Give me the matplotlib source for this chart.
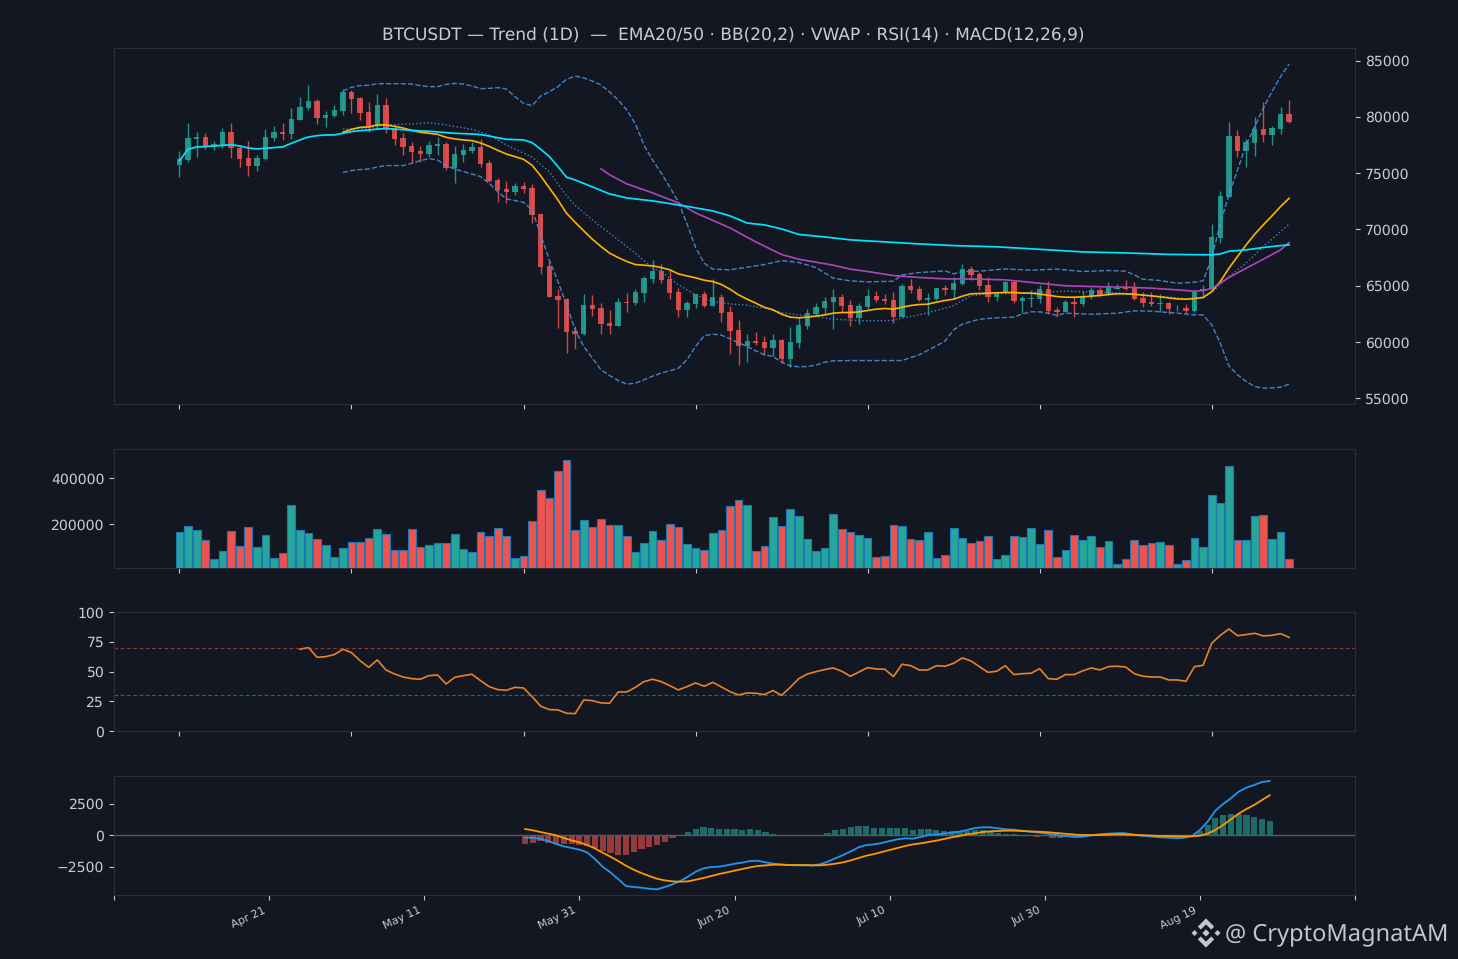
import numpy as np
import matplotlib
matplotlib.use("Agg")
import matplotlib.pyplot as plt
from matplotlib.patches import Polygon
from matplotlib.transforms import ScaledTranslation

#======================
# 1. VALUES
#======================
opens = [75730, 76170, 78040, 78210, 77410, 77410, 78660, 77240, 76350, 75640,
         76260, 78120, 78660, 78480, 79720, 80790, 81410, 79900, 80080, 80520,
         82210, 81670, 80430, 79280, 81050, 78890, 78130, 77410, 76970, 76710,
         77410, 77590, 75460, 76620, 76970, 77330, 75910, 74400, 73600, 73330,
         73870, 73690, 71380, 66770, 64110, 63840, 61010, 60740, 63310, 63050,
         61720, 61450, 63580, 63490, 64380, 65620, 66330, 65620, 64470, 62870,
         63400, 64290, 63220, 64020, 62690, 61090, 59670, 60120, 60030, 59500,
         60210, 58520, 59940, 61450, 62510, 63050, 63580, 64020, 63310, 62160,
         63130, 64110, 63840, 63760, 62250, 65000, 64730, 63760, 63840, 64820,
         64640, 65180, 66510, 66060, 65090, 64020, 64380, 65350, 63670, 63840,
         63840, 64730, 62870, 62690, 63580, 63400, 64110, 64640, 64200, 64730,
         64820, 64820, 63930, 63580, 63430, 63490, 62990, 63050, 62780, 64550,
         64730, 69250, 72890, 78300, 76970, 77680, 78920, 78390, 78920, 80250]
highs = [76940, 79430, 78630, 78540, 77860, 78980, 79430, 77500, 77860, 76620,
         78890, 79190, 79430, 80790, 81730, 82830, 81560, 80490, 81020, 82440,
         82380, 81760, 81290, 82030, 81640, 79280, 78540, 77740, 77410, 77860,
         78210, 77800, 77410, 77590, 77800, 78070, 76170, 74580, 74310, 74130,
         74220, 74010, 71380, 67300, 64730, 63900, 61450, 64290, 64170, 63460,
         62870, 63900, 64350, 64700, 65830, 67300, 66920, 66420, 64790, 63670,
         64290, 64550, 65590, 64290, 63220, 61980, 60740, 60920, 60560, 60740,
         60270, 61360, 62130, 62960, 63490, 63990, 64730, 64290, 63760, 63490,
         64730, 64550, 64290, 64430, 65180, 65620, 65000, 64380, 64820, 65060,
         65800, 66950, 66770, 66270, 65800, 64350, 65440, 65440, 64110, 64640,
         65090, 65440, 63130, 63700, 64020, 64520, 64910, 64910, 65350, 65180,
         65530, 65350, 64470, 64470, 64290, 63580, 63310, 63400, 64640, 65080,
         70500, 73420, 79540, 78830, 78040, 79990, 81290, 79190, 80880, 81500]
lows = [74700, 76030, 76470, 77180, 77060, 77240, 76380, 75580, 74780, 75230,
        76170, 77890, 77980, 78040, 79720, 80610, 79400, 79100, 79990, 80170,
        80340, 79720, 78690, 78890, 78600, 77500, 76620, 75940, 76030, 76440,
        76620, 75290, 74130, 76000, 76790, 75580, 74190, 72480, 72390, 73070,
        73250, 70580, 66090, 64020, 61270, 59050, 59410, 60650, 62340, 60680,
        60680, 61450, 62690, 63340, 63580, 65230, 65290, 63840, 62190, 62190,
        63050, 63160, 63220, 61800, 58970, 57990, 58250, 59760, 58850, 58730,
        58140, 57780, 59500, 61180, 62340, 62420, 61210, 62690, 61450, 61630,
        62960, 63580, 63400, 61720, 62190, 64380, 63670, 62420, 63760, 64200,
        63840, 65090, 65500, 64610, 63580, 63670, 64290, 63490, 62600, 63130,
        63490, 62510, 62220, 62690, 62190, 63220, 63790, 64110, 64200, 64700,
        64640, 63760, 63130, 63220, 62690, 62510, 62780, 62600, 62690, 64020,
        64550, 68840, 72890, 76470, 75580, 76560, 77800, 77500, 78480, 79460]
closes = [76260, 78130, 78210, 77410, 77590, 78660, 77240, 76260, 75640, 76350,
          78210, 78660, 78480, 79810, 80880, 81410, 79900, 80170, 80610, 82210,
          81580, 80340, 79130, 81050, 79010, 78040, 77330, 76880, 76710, 77500,
          77590, 75460, 76710, 77060, 77330, 75820, 74310, 73510, 73330, 73870,
          73600, 71290, 66680, 64020, 63750, 60920, 60740, 63310, 62960, 61630,
          61450, 63580, 63490, 64470, 65710, 66330, 65530, 64380, 62870, 63490,
          64290, 63220, 64020, 62600, 61010, 59670, 60120, 59910, 59500, 60210,
          58520, 60030, 61540, 62600, 63130, 63670, 64020, 63220, 62160, 63220,
          64110, 63760, 63670, 62250, 65000, 64640, 63760, 63930, 64820, 64640,
          65260, 66510, 65970, 65000, 64020, 64290, 65350, 63670, 63930, 63930,
          64730, 62780, 62690, 63580, 63400, 64110, 64640, 64110, 64910, 64820,
          64700, 63840, 63490, 63400, 63490, 62960, 63050, 62780, 64460, 64730,
          69340, 72980, 78300, 76970, 77770, 78920, 78390, 79010, 80250, 79540]
volumes = [165950, 192020, 174640, 131150, 48550, 83340, 170290, 105080, 187680, 100730,
           152900, 52900, 74640, 283330, 174640, 161590, 135500, 109430, 57240, 96380,
           122460, 122460, 139860, 178990, 157250, 87680, 87680, 178990, 100730, 109430,
           118120, 118120, 157250, 92030, 78990, 165950, 148560, 183330, 148560, 52900,
           61590, 213770, 348550, 313770, 431160, 478990, 174640, 218120, 187680, 222470,
           196380, 196380, 148560, 78990, 118120, 170290, 131150, 200730, 187680, 113770,
           96380, 87680, 161590, 174640, 278990, 305080, 283330, 83340, 105080, 231160,
           192020, 265940, 235510, 135500, 83340, 96380, 244200, 178990, 165950, 152900,
           139860, 57240, 61590, 196380, 192020, 135500, 131150, 165950, 52900, 65930,
           183330, 139860, 118120, 126810, 148560, 48550, 65930, 148560, 144200, 183330,
           113770, 174640, 57240, 87680, 152900, 131150, 148560, 100730, 126810, 26820,
           48550, 131150, 109430, 118120, 122460, 109430, 26820, 44200, 139860, 100730,
           326810, 292030, 452900, 131150, 131150, 235510, 239850, 135500, 165950, 48550]

# indicator lines, (bar, value)
vwap = [(0, 76110), (1, 77120), (2, 77330), (3, 77360), (4, 77410), (5, 77470), (6, 77530),
        (7, 77410), (8, 77240), (9, 77150), (10, 77210), (11, 77270), (12, 77330), (13, 77650),
        (14, 77950), (15, 78210), (16, 78330), (17, 78390), (18, 78390), (19, 78540), (20, 78690),
        (21, 78770), (22, 78830), (23, 78920), (24, 78950), (25, 78920), (26, 78860), (27, 78800),
        (28, 78750), (29, 78720), (30, 78660), (31, 78600), (32, 78540), (34, 78480), (35, 78420),
        (36, 78300), (37, 78150), (38, 78010), (39, 77980), (40, 77950), (41, 77710), (42, 77120),
        (43, 76470), (44, 75580), (45, 74640), (46, 74400), (48, 73780), (50, 73160), (52, 72800),
        (55, 72540), (58, 72180), (60, 71920), (62, 71650), (64, 71210), (66, 70570), (68, 70410),
        (70, 70050), (72, 69560), (75, 69340), (78, 69080), (82, 68900), (86, 68720), (90, 68570),
        (95, 68460), (100, 68240), (105, 68010), (110, 67920), (115, 67790), (120, 67750),
        (121, 67830), (122, 68070), (124, 68190), (126, 68400), (128, 68570), (129, 68630)]
ema20 = [78630, 78890, 79070, 79100, 79280, 79280, 79160, 79010, 78800, 78630,
         78540, 78450, 78180, 78040, 77950, 77890, 77680, 77380, 77030, 76700,
         76470, 76230, 75700, 74750, 73690, 72620, 71440, 70640, 69880, 69140,
         68490, 67900, 67510, 67160, 66890, 66830, 66770, 66620, 66420, 66060,
         65880, 65710, 65500, 65380, 65120, 64700, 64200, 63810, 63460, 63100,
         62870, 62480, 62220, 62160, 62220, 62310, 62420, 62570, 62630, 62630,
         62690, 62810, 62930, 62990, 62930, 63100, 63250, 63340, 63370, 63550,
         63700, 63810, 64080, 64290, 64320, 64350, 64380, 64410, 64410, 64350,
         64350, 64260, 64170, 64050, 63990, 63990, 64020, 64080, 64140, 64230,
         64290, 64290, 64260, 64170, 64110, 64020, 63930, 63840, 63810, 63870,
         63960, 64490, 65380, 66560, 67600, 68630, 69580, 70410, 71200, 72030, 72770]
ema50 = [(49, 75380), (50, 74860), (52, 74050), (55, 73250), (58, 72360), (60, 71470), (62, 70810),
         (64, 70140), (67, 68900), (70, 67780), (72, 67360), (74, 67100), (76, 66830), (78, 66480),
         (80, 66270), (83, 65910), (86, 65740), (89, 65620), (93, 65590), (96, 65530), (98, 65380),
         (100, 65230), (103, 65000), (106, 64940), (110, 64880), (113, 64790), (116, 64640),
         (118, 64520), (119, 64580), (120, 64760), (121, 65230), (122, 65740), (124, 66560),
         (126, 67360), (128, 68190), (129, 68840)]
bb_mid = [(19, 78920), (21, 78950), (24, 79280), (27, 79370), (29, 79480), (31, 79280), (34, 78890),
          (36, 78390), (38, 77500), (41, 76410), (43, 75140), (45, 72980), (46, 72150), (48, 70850),
          (50, 69670), (51, 69080), (53, 67900), (55, 66560), (56, 66270), (58, 65090), (60, 64200),
          (62, 63610), (64, 63400), (66, 63280), (68, 63020), (70, 62630), (72, 62420), (74, 62280),
          (76, 62040), (78, 61950), (80, 61890), (83, 61920), (84, 62130), (86, 62420), (88, 62810),
          (90, 63250), (92, 64110), (94, 64290), (97, 64350), (100, 64430), (103, 64520), (106, 64470),
          (109, 64380), (112, 64200), (114, 64050), (117, 63870), (119, 63990), (120, 64400),
          (122, 65820), (124, 67010), (126, 68480), (128, 69810), (129, 70470)]
bb_up = [(19, 82290), (20, 82620), (21, 82770), (22, 82800), (23, 82940), (26, 82940), (27, 82910),
         (28, 82770), (29, 82680), (30, 82680), (31, 82880), (32, 82970), (33, 82910), (34, 82740),
         (35, 82500), (36, 82530), (37, 82590), (38, 82470), (39, 81790), (40, 81200), (41, 80990),
         (42, 81850), (43, 82230), (44, 82680), (45, 83330), (46, 83620), (47, 83450), (48, 83180),
         (49, 82830), (50, 82210), (51, 81500), (52, 80610), (53, 79370), (54, 77500), (55, 76170),
         (56, 75020), (57, 73780), (58, 72450), (59, 70500), (60, 68400), (61, 67010), (62, 66480),
         (64, 66420), (66, 66650), (68, 66890), (70, 67240), (72, 67070), (74, 66620), (76, 65680),
         (78, 65440), (80, 65350), (83, 65410), (84, 65970), (86, 66180), (89, 66330), (90, 66060),
         (91, 66270), (93, 66300), (96, 66500), (99, 66390), (102, 66480), (105, 66270), (108, 66360),
         (110, 66300), (111, 65970), (112, 65590), (114, 65470), (116, 65230), (118, 65320),
         (119, 65440), (120, 67450), (121, 70550), (122, 73070), (123, 75290), (124, 77500),
         (125, 79130), (126, 80760), (127, 82230), (128, 83560), (129, 84690)]
bb_low = [(19, 75050), (20, 75230), (21, 75320), (22, 75370), (23, 75550), (24, 75670), (26, 75670),
          (27, 75880), (28, 76110), (29, 76290), (30, 76170), (31, 75670), (32, 75370), (33, 75140),
          (34, 74930), (35, 74700), (36, 74100), (37, 73360), (38, 72710), (39, 72570), (40, 72420),
          (41, 71740), (42, 69520), (43, 67300), (44, 65380), (45, 63310), (46, 61090), (47, 59620),
          (48, 58580), (49, 57550), (50, 57040), (51, 56600), (52, 56270), (53, 56360), (54, 56660),
          (55, 56980), (56, 57250), (57, 57460), (58, 57690), (59, 58430), (60, 59620), (61, 60560),
          (62, 60710), (63, 60620), (64, 60300), (65, 59940), (66, 59620), (67, 59230), (68, 58880),
          (69, 58730), (70, 58220), (71, 57900), (72, 57810), (73, 57840), (74, 57960), (75, 58220),
          (76, 58340), (78, 58370), (84, 58370), (86, 58880), (88, 59670), (89, 60100), (90, 61090),
          (91, 61600), (93, 62040), (95, 62160), (97, 62220), (98, 62510), (99, 62690), (100, 62690),
          (101, 62570), (102, 62370), (103, 62570), (106, 62480), (109, 62570), (111, 62780),
          (113, 62750), (116, 62570), (118, 62420), (119, 62420), (120, 61530), (121, 59910),
          (122, 57900), (123, 57100), (124, 56510), (125, 56060), (126, 55920), (127, 55950),
          (128, 56000), (129, 56270)]

rsi_start = 14
rsi = [68.7, 70.1, 61.9, 62.5, 64.2, 68.7, 65.9, 59.1, 53.5, 59.7,
       51.3, 47.9, 45.4, 44.0, 43.5, 46.5, 47.1, 39.5, 45.1, 46.5,
       47.7, 42.3, 37.3, 34.8, 34.2, 36.7, 36.2, 28.9, 20.8, 18.0,
       17.7, 14.9, 14.6, 26.1, 25.5, 23.6, 23.3, 32.8, 32.8, 36.7,
       41.5, 43.5, 41.5, 38.1, 34.5, 37.3, 40.4, 37.6, 40.9, 37.0,
       33.1, 30.3, 32.0, 31.7, 30.6, 34.0, 30.0, 36.7, 44.0, 47.9,
       49.9, 51.6, 53.0, 50.2, 46.0, 49.6, 53.3, 52.1, 51.9, 45.7,
       56.1, 54.9, 51.3, 51.3, 54.9, 54.4, 56.9, 61.4, 58.9, 54.1,
       49.3, 50.2, 54.9, 47.4, 48.2, 48.5, 52.4, 44.0, 43.5, 47.4,
       47.4, 50.5, 53.0, 51.3, 54.1, 54.4, 53.8, 48.2, 46.0, 45.4,
       45.4, 42.9, 42.9, 41.8, 54.1, 55.2, 73.7, 80.4, 85.7, 80.1,
       81.0, 82.1, 79.9, 80.4, 81.8, 78.7]

macd_start = 53
macd_hist = [-715, -635, -500, -660, -740, -715, -715, -770, -850, -1005,
             -1270, -1430, -1590, -1590, -1350, -1110, -950, -795, -555, -240,
             -25, 240, 475, 635, 555, 475, 475, 475, 395, 475,
             395, 240, 80, 10, -25, -25, 5, -25, 5, 160,
             395, 475, 635, 715, 715, 555, 555, 555, 555, 555,
             395, 475, 475, 395, 320, 320, 320, 320, 395, 395,
             240, 160, 80, 80, -50, -50, -160, -50, -240, -240,
             -190, -190, 0, 25, 50, 80, 50, 50, 25, 0,
             -25, -25, -25, -50, -50, -80, -50, 320, 795, 1350,
             1590, 1670, 1670, 1590, 1430, 1270, 1110]
macd_line = [-212, -212, -318, -477, -715, -900, -1033, -1165, -1377, -1906,
             -2515, -2965, -3495, -4050, -4130, -4183, -4262, -4315, -4130, -3918,
             -3654, -3309, -2912, -2648, -2542, -2515, -2409, -2277, -2198, -2065,
             -2039, -2171, -2277, -2330, -2383, -2409, -2409, -2409, -2330, -2118,
             -1854, -1589, -1298, -980, -795, -742, -636, -477, -345, -265,
             -292, -159, 0, 52, 105, 185, 264, 397, 555, 608,
             608, 529, 449, 423, 344, 264, 211, 132, 52, -53,
             -106, -159, -133, -27, 52, 105, 132, 158, 79, -27,
             -80, -133, -186, -212, -265, -212, -80, 397, 1058, 1932,
             2461, 2911, 3440, 3758, 3970, 4208, 4288]
macd_signal = [476, 370, 238, 105, -27, -239, -424, -583, -795, -1059,
               -1403, -1721, -2065, -2436, -2754, -3018, -3256, -3468, -3601, -3680,
               -3706, -3680, -3548, -3415, -3256, -3098, -2965, -2833, -2701, -2568,
               -2462, -2409, -2356, -2356, -2383, -2383, -2383, -2409, -2409, -2356,
               -2277, -2171, -2012, -1827, -1642, -1509, -1350, -1192, -1033, -874,
               -742, -662, -556, -450, -318, -185, -80, 52, 132, 238,
               291, 318, 344, 344, 318, 291, 264, 238, 185, 132,
               79, 26, 0, 0, 0, 26, 52, 52, 26, 0,
               -27, -53, -80, -80, -106, -106, -106, -53, 105, 397,
               794, 1243, 1693, 2064, 2382, 2779, 3149]

date_ticks = [20, 40, 60, 80, 100, 120, 140]
date_labels = ["Apr 21", "May 11", "May 31", "Jun 20", "Jul 10", "Jul 30", "Aug 19"]

#======================
# 2. STYLE
#======================
BG = "#121722"
GRID = "#2a2e39"
TXT = "#c8ccd6"
UP = "#26a69a"
DOWN = "#ef5350"
BB = "#4a90d9"
W, H = 1458, 959

plt.rcParams["font.family"] = ["DejaVu Sans"]
plt.rcParams["text.hinting"] = "no_hinting"
plt.rcParams["text.hinting_factor"] = 1

def panel(top, bottom):
    ax = fig.add_axes([114 / W, 1 - bottom / H, (1355 - 114) / W, (bottom - top) / H])
    ax.set_facecolor(BG)
    for s in ax.spines.values():
        s.set_color(GRID)
    ax.tick_params(colors=TXT, labelsize=10.2, length=3.5, width=0.8)
    return ax

def xy(pairs):
    return zip(*pairs)

fig = plt.figure(figsize=(W / 100, H / 100), dpi=100, facecolor=BG)
fig.text(733 / W, 1 - 36.5 / H,
         "BTCUSDT \u2014 Trend (1D)  \u2014  EMA20/50 \u00b7 BB(20,2) \u00b7 VWAP \u00b7 RSI(14) \u00b7 MACD(12,26,9)",
         color=TXT, fontsize=12, ha="center", va="center")

bars = np.arange(len(closes))
o, h, l, c = map(np.array, (opens, highs, lows, closes))
colors = [UP if b >= a else DOWN for a, b in zip(o, c)]
upper_xlim = (-7.61, 136.66)

#================
# 3. PRICE PANEL
#================
ax1 = panel(48, 404)
ax1.vlines(bars, l, h, colors=colors, lw=1, alpha=0.85, zorder=2)
ax1.bar(bars, np.abs(c - o), bottom=np.minimum(o, c), width=0.62, color=colors, alpha=0.85, zorder=3)
ax1.plot(*xy(bb_up), color=BB, lw=1, ls="--", alpha=0.9, zorder=4)
ax1.plot(*xy(bb_low), color=BB, lw=1, ls="--", alpha=0.9, zorder=4)
ax1.plot(*xy(bb_mid), color=BB, lw=1, ls=":", alpha=0.9, zorder=4)
ax1.plot(bars[19:], ema20, color="#ffb300", lw=1.2, zorder=5)
ax1.plot(*xy(ema50), color="#ab47bc", lw=1.2, zorder=5)
ax1.plot(*xy(vwap), color="#00e5ff", lw=1.25, zorder=6)
ax1.set_xlim(*upper_xlim)
ax1.set_ylim(54510, 86110)
ax1.set_yticks(np.arange(55000, 85001, 5000))
ax1.yaxis.tick_right()
ax1.set_xticks(np.arange(0, 121, 20))
ax1.tick_params(axis="x", labelbottom=False)

#================
# 4. VOLUME
#================
ax2 = panel(449, 568)
ax2.bar(bars, volumes, width=0.9, color=colors, edgecolor="#1f77b4", linewidth=0.8)
ax2.set_xlim(*upper_xlim)
ax2.set_ylim(10870, 528260)
ax2.set_yticks([200000, 400000])
ax2.set_xticks(np.arange(0, 121, 20))
ax2.tick_params(axis="x", labelbottom=False)

#================
# 5. RSI
#================
ax3 = panel(612, 731)
ax3.plot(np.arange(len(rsi)) + rsi_start, rsi, color="#e8832a", lw=1.2)
ax3.axhline(70, color=DOWN, lw=0.9, ls=(0, (3, 2)), alpha=0.55)
ax3.axhline(30, color=UP, lw=0.9, ls=(0, (3, 2)), alpha=0.6)
ax3.set_xlim(*upper_xlim)
ax3.set_ylim(0, 100)
ax3.set_yticks([0, 25, 50, 75, 100])
ax3.set_xticks(np.arange(0, 121, 20))
ax3.tick_params(axis="x", labelbottom=False)

#================
# 6. MACD
#================
ax4 = panel(776, 895)
macd_x = np.arange(len(macd_line)) + macd_start
hist_colors = [UP if v >= 0 else DOWN for v in macd_hist]
ax4.bar(macd_x, macd_hist, width=0.8, color=hist_colors, alpha=0.6)
ax4.axhline(0, color="#555a66", lw=1)
ax4.plot(macd_x, macd_line, color="#2196f3", lw=1.3)
ax4.plot(macd_x, macd_signal, color="#ff9800", lw=1.3)
ax4.set_xlim(0, 160)
ax4.set_ylim(-4762, 4683)
ax4.set_yticks([-2500, 0, 2500])
ax4.set_xticks([0] + date_ticks + [160])
ax4.set_xticklabels([""] + date_labels + [""], rotation=25, ha="right", fontsize=8.2)
nudge = ScaledTranslation(-2 / 100, 0, fig.dpi_scale_trans)
for t in ax4.get_xticklabels():
    t.set_transform(t.get_transform() + nudge)

#================
# 7. WATERMARK
#================
logo = fig.add_axes([1190 / W, 1 - 949 / H, 32 / W, 32 / H])
logo.set_xlim(-16, 16)
logo.set_ylim(-16, 16)
logo.axis("off")
mark = "#c4c6cc"
for dx, dy, r in [(0, 0, 3.6), (-11.5, 0, 3), (11.5, 0, 3)]:
    logo.add_patch(Polygon([(dx - r, dy), (dx, dy + r), (dx + r, dy), (dx, dy - r)], color=mark, lw=0))
for s in (1, -1):
    logo.add_patch(Polygon([(-8.2, s * 6.4), (0, s * 14.6), (8.2, s * 6.4), (5.2, s * 3.4),
                            (0, s * 8.6), (-5.2, s * 3.4)], color=mark, lw=0))
fig.text(1225 / W, 1 - 934 / H, "@ CryptoMagnatAM", color="#c4c6cc", fontsize=17,
         family="Noto Sans", ha="left", va="center")

fig.savefig("out.png", dpi=100, facecolor=BG)
